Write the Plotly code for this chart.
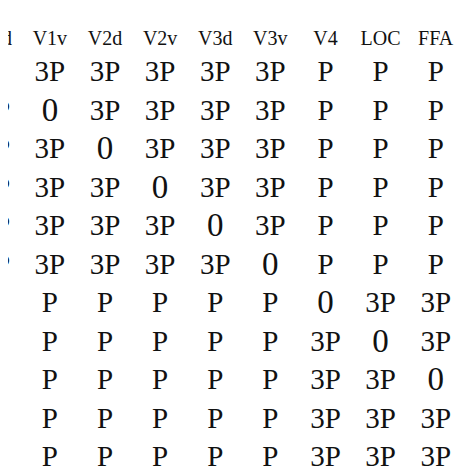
import plotly.graph_objects as go

columns = ["V1d", "V1v", "V2d", "V2v", "V3d", "V3v", "V4", "LOC", "FFA", "PPA"]
rows = [
    ["0", "3P", "3P", "3P", "3P", "3P", "P", "P", "P", "P"],
    ["3P", "0", "3P", "3P", "3P", "3P", "P", "P", "P", "P"],
    ["3P", "3P", "0", "3P", "3P", "3P", "P", "P", "P", "P"],
    ["3P", "3P", "3P", "0", "3P", "3P", "P", "P", "P", "P"],
    ["3P", "3P", "3P", "3P", "0", "3P", "P", "P", "P", "P"],
    ["3P", "3P", "3P", "3P", "3P", "0", "P", "P", "P", "P"],
    ["P", "P", "P", "P", "P", "P", "0", "3P", "3P", "3P"],
    ["P", "P", "P", "P", "P", "P", "3P", "0", "3P", "3P"],
    ["P", "P", "P", "P", "P", "P", "3P", "3P", "0", "3P"],
    ["P", "P", "P", "P", "P", "P", "3P", "3P", "3P", "0"],
    ["P", "P", "P", "P", "P", "P", "3P", "3P", "3P", "3P"],
]

fig = go.Figure()
fig.add_trace(go.Scatter(
    x=list(range(len(columns))), y=[-0.88] * len(columns), text=columns,
    mode="text", cliponaxis=True, hoverinfo="skip",
    textfont=dict(family="Liberation Serif", size=20, color="#111")))
xs, ys, ts, sz = [], [], [], []
for i, r in enumerate(rows):
    for j, v in enumerate(r):
        xs.append(j); ys.append(i); ts.append(v)
        sz.append(33 if v == "0" else 29)
fig.add_trace(go.Scatter(
    x=xs, y=ys, text=ts, mode="text", cliponaxis=True, hoverinfo="skip",
    textfont=dict(family="Liberation Serif", size=sz, color="#111")))
fig.update_layout(
    width=474, height=474, margin=dict(l=0, r=0, t=0, b=0),
    paper_bgcolor="white", plot_bgcolor="white",
    xaxis=dict(range=[0.24, 8.84], visible=False),
    yaxis=dict(range=[10.6, -1.71], visible=False),
    showlegend=False,
)
fig.write_html("out.html")
